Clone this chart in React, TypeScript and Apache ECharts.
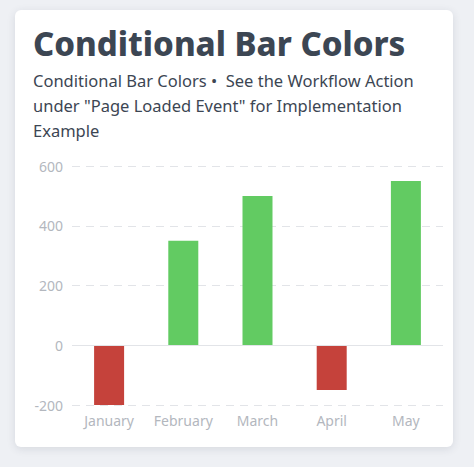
import React, { useEffect, useRef } from "react";
import * as echarts from "echarts";

const categories = ["January", "February", "March", "April", "May"];
const values = [-200, 350, 500, -150, 550];
const yTicks = { min: -200, max: 600, interval: 200 };

const GREEN = "#62cb62";
const RED = "#c5423b";
const FONT = "'Noto Sans', 'Open Sans', sans-serif";

export default function App() {
  const ref = useRef<HTMLDivElement>(null);
  useEffect(() => {
    if (!ref.current) return;
    const chart = echarts.init(ref.current, undefined, { renderer: "svg" });
    chart.setOption({
      animation: false,
      title: {
        text: "Conditional Bar Colors",
        subtext:
          'Conditional Bar Colors •  See the Workflow Action\nunder "Page Loaded Event" for Implementation\nExample',
        left: 28,
        top: 22,
        itemGap: 8,
        textStyle: {
          fontFamily: FONT,
          fontSize: 33,
          fontWeight: 800,
          color: "#3c4653",
        },
        subtextStyle: {
          fontFamily: FONT,
          fontSize: 16.5,
          lineHeight: 25,
          color: "#3c4653",
        },
      },
      grid: { left: 72, right: 31, top: 166, bottom: 62 },
      xAxis: {
        type: "category",
        data: categories,
        axisLine: { show: false },
        axisTick: { show: false },
        axisLabel: {
          color: "#b3b7be",
          fontFamily: FONT,
          fontSize: 14,
          margin: 8,
          interval: 0,
        },
      },
      yAxis: {
        type: "value",
        min: yTicks.min,
        max: yTicks.max,
        interval: yTicks.interval,
        axisLine: { show: false },
        axisTick: { show: false },
        axisLabel: { color: "#b3b7be", fontFamily: FONT, fontSize: 14, margin: 9 },
        splitLine: {
          lineStyle: { color: "#e2e4e8", type: [8, 6], width: 1 },
        },
      },
      series: [
        {
          type: "bar",
          data: values.map((v) => ({
            value: v,
            itemStyle: { color: v < 0 ? RED : GREEN },
          })),
          barWidth: 30,
          markLine: {
            silent: true,
            symbol: "none",
            label: { show: false },
            lineStyle: { color: "#e2e4e8", type: "solid", width: 1 },
            data: [{ yAxis: 0 }],
          },
        },
      ],
    });
    return () => chart.dispose();
  }, []);

  return (
    <div
      style={{
        position: "fixed",
        left: 0,
        top: 0,
        width: 474,
        height: 467,
        background: "#eef0f4",
      }}
    >
      <div
        style={{
          position: "absolute",
          left: 15,
          top: 10,
          width: 438,
          height: 437,
          background: "#ffffff",
          borderRadius: 6,
          boxShadow: "0 2px 8px rgba(40,50,70,0.12)",
        }}
      />
      <div
        ref={ref}
        style={{ position: "absolute", left: 0, top: 0, width: 474, height: 467 }}
      />
    </div>
  );
}
